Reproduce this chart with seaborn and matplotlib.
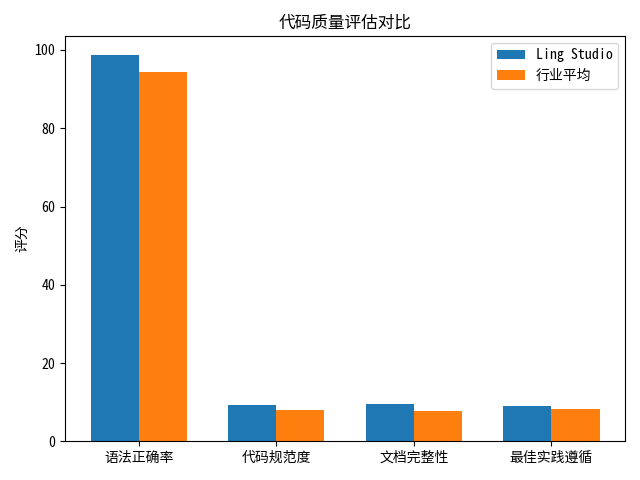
import matplotlib
matplotlib.use("Agg")
import matplotlib.pyplot as plt
import seaborn as sns
import pandas as pd

categories = ["语法正确率", "代码规范度", "文档完整性", "最佳实践遵循"]
ling_studio = [98.7, 9.2, 9.5, 9.0]
industry_avg = [94.4, 7.9, 7.7, 8.2]
series_names = ["Ling Studio", "行业平均"]

plt.rcParams['font.family'] = ['Noto Sans Mono CJK SC', 'Noto Sans CJK SC', 'DejaVu Sans']
plt.rcParams['axes.unicode_minus'] = False

df = pd.DataFrame({
    "类别": categories * 2,
    "评分": ling_studio + industry_avg,
    "系列": [series_names[0]] * len(categories) + [series_names[1]] * len(categories),
})

fig, ax = plt.subplots(figsize=(6.4, 4.8), dpi=100)
sns.barplot(data=df, x="类别", y="评分", hue="系列", hue_order=series_names,
            palette=["#1f77b4", "#ff7f0e"], saturation=1, width=0.7, gap=0,
            errorbar=None, ax=ax)

ax.set_xlim(-0.535, 3.535)
ax.set_xlabel("")
ax.set_ylabel("评分")
ax.set_title("代码质量评估对比")
ax.legend(title=None, loc="upper right")

plt.tight_layout()
plt.savefig("out.png")
